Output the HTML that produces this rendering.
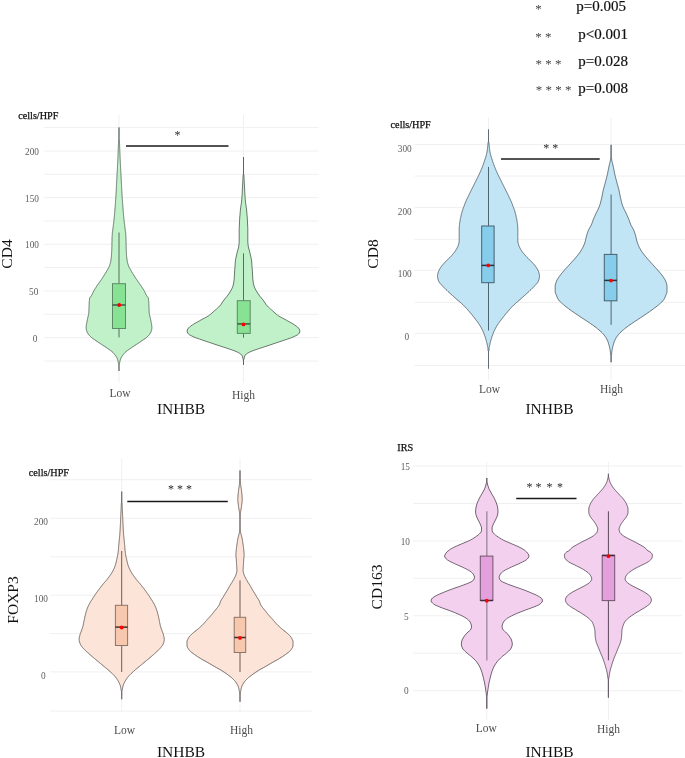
<!DOCTYPE html>
<html lang="en">
<head>
<meta charset="utf-8">
<title>INHBB violin plots</title>
<style>
html,body{margin:0;padding:0;background:#fff;}
body{width:685px;height:758px;overflow:hidden;}
svg{display:block;font-family:"Liberation Serif", "DejaVu Serif", serif;}
.grid{stroke:#f0f0f0;stroke-width:1;}
.tick{font-size:9.3px;fill:#606060;}
.xt{font-size:11.5px;fill:#4d4d4d;}
.unit{font-size:10.2px;fill:#111;stroke:#111;stroke-width:0.25px;}
.title{font-size:15.5px;fill:#111;}
.star{font-size:12px;fill:#2a2a2a;}
.lstar{font-size:13px;fill:#444;}
.ltext{font-size:15px;fill:#111;stroke:#111;stroke-width:0.2px;}
</style>
</head>
<body>
<svg width="685" height="758" viewBox="0 0 685 758">
<rect width="685" height="758" fill="#ffffff"/>
<g>
<line x1="44.0" y1="127.6" x2="318.5" y2="127.6" class="grid"/>
<line x1="44.0" y1="151.0" x2="318.5" y2="151.0" class="grid"/>
<line x1="44.0" y1="174.3" x2="318.5" y2="174.3" class="grid"/>
<line x1="44.0" y1="197.6" x2="318.5" y2="197.6" class="grid"/>
<line x1="44.0" y1="221.0" x2="318.5" y2="221.0" class="grid"/>
<line x1="44.0" y1="244.3" x2="318.5" y2="244.3" class="grid"/>
<line x1="44.0" y1="267.6" x2="318.5" y2="267.6" class="grid"/>
<line x1="44.0" y1="291.0" x2="318.5" y2="291.0" class="grid"/>
<line x1="44.0" y1="314.3" x2="318.5" y2="314.3" class="grid"/>
<line x1="44.0" y1="337.6" x2="318.5" y2="337.6" class="grid"/>
<line x1="44.0" y1="361.0" x2="318.5" y2="361.0" class="grid"/>
<line x1="119.0" y1="115.0" x2="119.0" y2="382.5" class="grid"/>
<line x1="243.5" y1="115.0" x2="243.5" y2="382.5" class="grid"/>
<path d="M119.0 127.5 L119.0 128.5 L119.0 129.5 L119.0 130.5 L119.0 131.5 L119.0 132.5 L119.0 133.5 L119.0 134.5 L119.0 135.5 L119.0 136.5 L119.0 137.5 L119.0 138.5 L119.0 139.5 L118.6 140.5 L118.5 141.5 L118.5 142.5 L118.5 143.5 L118.4 144.5 L118.4 145.5 L118.4 146.5 L118.3 147.5 L118.3 148.5 L118.2 149.5 L118.2 150.5 L118.2 151.5 L118.1 152.5 L118.1 153.5 L118.0 154.5 L118.0 155.5 L118.0 156.5 L117.9 157.5 L117.9 158.5 L117.8 159.5 L117.8 160.5 L117.7 161.5 L117.7 162.5 L117.6 163.5 L117.6 164.5 L117.5 165.5 L117.5 166.5 L117.4 167.5 L117.4 168.5 L117.3 169.5 L117.3 170.5 L117.2 171.5 L117.1 172.5 L117.1 173.5 L117.0 174.5 L117.0 175.5 L116.9 176.5 L116.9 177.5 L116.8 178.5 L116.8 179.5 L116.7 180.5 L116.7 181.5 L116.6 182.5 L116.6 183.5 L116.5 184.5 L116.5 185.5 L116.4 186.5 L116.4 187.5 L116.3 188.5 L116.3 189.5 L116.2 190.5 L116.2 191.5 L116.1 192.5 L116.0 193.5 L116.0 194.5 L115.9 195.5 L115.9 196.5 L115.8 197.5 L115.7 198.5 L115.7 199.5 L115.6 200.5 L115.5 201.5 L115.5 202.5 L115.4 203.5 L115.3 204.5 L115.2 205.5 L115.2 206.5 L115.1 207.5 L115.0 208.5 L114.9 209.5 L114.8 210.5 L114.7 211.5 L114.7 212.5 L114.6 213.5 L114.5 214.5 L114.4 215.5 L114.3 216.5 L114.2 217.5 L114.1 218.5 L114.0 219.5 L113.9 220.5 L113.8 221.5 L113.7 222.5 L113.6 223.5 L113.4 224.5 L113.3 225.5 L113.2 226.5 L113.1 227.5 L112.9 228.5 L112.8 229.5 L112.7 230.5 L112.6 231.5 L112.4 232.5 L112.3 233.5 L112.3 234.5 L112.2 235.5 L112.1 236.5 L112.1 237.5 L112.0 238.5 L112.0 239.5 L112.0 240.5 L112.0 241.5 L111.9 242.5 L111.9 243.5 L111.9 244.5 L111.9 245.5 L111.9 246.5 L111.8 247.5 L111.8 248.5 L111.8 249.5 L111.7 250.5 L111.7 251.5 L111.6 252.5 L111.6 253.5 L111.5 254.5 L111.5 255.5 L111.4 256.5 L111.3 257.5 L111.1 258.5 L111.0 259.5 L110.9 260.5 L110.7 261.5 L110.5 262.5 L110.2 263.5 L109.9 264.5 L109.6 265.5 L109.2 266.5 L108.7 267.5 L108.2 268.5 L107.6 269.5 L107.0 270.5 L106.5 271.5 L105.9 272.5 L105.3 273.5 L104.6 274.5 L104.0 275.5 L103.4 276.5 L102.7 277.5 L102.1 278.5 L101.4 279.5 L100.7 280.5 L100.0 281.5 L99.3 282.5 L98.6 283.5 L97.9 284.5 L97.2 285.5 L96.5 286.5 L95.9 287.5 L95.2 288.5 L94.6 289.5 L94.0 290.5 L93.5 291.5 L93.0 292.5 L92.5 293.5 L92.0 294.5 L91.5 295.5 L90.8 296.5 L89.9 297.5 L89.6 298.5 L89.5 299.5 L89.4 300.5 L89.3 301.5 L89.2 302.5 L89.2 303.5 L89.1 304.5 L89.1 305.5 L89.1 306.5 L89.0 307.5 L89.0 308.5 L88.9 309.5 L88.9 310.5 L88.8 311.5 L88.8 312.5 L88.7 313.5 L88.5 314.5 L88.3 315.5 L88.1 316.5 L87.8 317.5 L87.6 318.5 L87.4 319.5 L87.2 320.5 L87.0 321.5 L86.8 322.5 L86.6 323.5 L86.4 324.5 L86.3 325.5 L86.2 326.5 L86.1 327.5 L86.2 328.5 L86.3 329.5 L86.6 330.5 L86.9 331.5 L87.3 332.5 L87.9 333.5 L88.6 334.5 L89.4 335.5 L90.4 336.5 L91.5 337.5 L92.8 338.5 L94.2 339.5 L95.7 340.5 L97.1 341.5 L98.6 342.5 L100.2 343.5 L101.7 344.5 L103.2 345.5 L104.8 346.5 L106.3 347.5 L107.7 348.5 L109.2 349.5 L110.6 350.5 L111.9 351.5 L113.0 352.5 L113.9 353.5 L114.7 354.5 L115.4 355.5 L116.1 356.5 L116.7 357.5 L117.2 358.5 L117.6 359.5 L117.9 360.5 L118.1 361.5 L118.3 362.5 L118.5 363.5 L119.0 364.5 L119.0 365.5 L119.0 366.5 L119.0 367.5 L119.0 368.5 L119.0 369.5 L119.0 370.5 L119.0 371.0 L119.0 371.0 L119.0 370.5 L119.0 369.5 L119.0 368.5 L119.0 367.5 L119.0 366.5 L119.0 365.5 L119.0 364.5 L119.5 363.5 L119.7 362.5 L119.9 361.5 L120.1 360.5 L120.4 359.5 L120.8 358.5 L121.3 357.5 L121.9 356.5 L122.6 355.5 L123.3 354.5 L124.1 353.5 L125.0 352.5 L126.1 351.5 L127.4 350.5 L128.8 349.5 L130.3 348.5 L131.7 347.5 L133.2 346.5 L134.8 345.5 L136.3 344.5 L137.8 343.5 L139.4 342.5 L140.9 341.5 L142.3 340.5 L143.8 339.5 L145.2 338.5 L146.5 337.5 L147.6 336.5 L148.6 335.5 L149.4 334.5 L150.1 333.5 L150.7 332.5 L151.1 331.5 L151.4 330.5 L151.7 329.5 L151.8 328.5 L151.9 327.5 L151.8 326.5 L151.7 325.5 L151.6 324.5 L151.4 323.5 L151.2 322.5 L151.0 321.5 L150.8 320.5 L150.6 319.5 L150.4 318.5 L150.2 317.5 L149.9 316.5 L149.7 315.5 L149.5 314.5 L149.3 313.5 L149.2 312.5 L149.2 311.5 L149.1 310.5 L149.1 309.5 L149.0 308.5 L149.0 307.5 L148.9 306.5 L148.9 305.5 L148.9 304.5 L148.8 303.5 L148.8 302.5 L148.7 301.5 L148.6 300.5 L148.5 299.5 L148.4 298.5 L148.1 297.5 L147.2 296.5 L146.5 295.5 L146.0 294.5 L145.5 293.5 L145.0 292.5 L144.5 291.5 L144.0 290.5 L143.4 289.5 L142.8 288.5 L142.1 287.5 L141.5 286.5 L140.8 285.5 L140.1 284.5 L139.4 283.5 L138.7 282.5 L138.0 281.5 L137.3 280.5 L136.6 279.5 L135.9 278.5 L135.3 277.5 L134.6 276.5 L134.0 275.5 L133.4 274.5 L132.7 273.5 L132.1 272.5 L131.5 271.5 L131.0 270.5 L130.4 269.5 L129.8 268.5 L129.3 267.5 L128.8 266.5 L128.4 265.5 L128.1 264.5 L127.8 263.5 L127.5 262.5 L127.3 261.5 L127.1 260.5 L127.0 259.5 L126.9 258.5 L126.7 257.5 L126.6 256.5 L126.5 255.5 L126.5 254.5 L126.4 253.5 L126.4 252.5 L126.3 251.5 L126.3 250.5 L126.2 249.5 L126.2 248.5 L126.2 247.5 L126.1 246.5 L126.1 245.5 L126.1 244.5 L126.1 243.5 L126.1 242.5 L126.0 241.5 L126.0 240.5 L126.0 239.5 L126.0 238.5 L125.9 237.5 L125.9 236.5 L125.8 235.5 L125.7 234.5 L125.7 233.5 L125.6 232.5 L125.4 231.5 L125.3 230.5 L125.2 229.5 L125.1 228.5 L124.9 227.5 L124.8 226.5 L124.7 225.5 L124.6 224.5 L124.4 223.5 L124.3 222.5 L124.2 221.5 L124.1 220.5 L124.0 219.5 L123.9 218.5 L123.8 217.5 L123.7 216.5 L123.6 215.5 L123.5 214.5 L123.4 213.5 L123.3 212.5 L123.3 211.5 L123.2 210.5 L123.1 209.5 L123.0 208.5 L122.9 207.5 L122.8 206.5 L122.8 205.5 L122.7 204.5 L122.6 203.5 L122.5 202.5 L122.5 201.5 L122.4 200.5 L122.3 199.5 L122.3 198.5 L122.2 197.5 L122.1 196.5 L122.1 195.5 L122.0 194.5 L122.0 193.5 L121.9 192.5 L121.8 191.5 L121.8 190.5 L121.7 189.5 L121.7 188.5 L121.6 187.5 L121.6 186.5 L121.5 185.5 L121.5 184.5 L121.4 183.5 L121.4 182.5 L121.3 181.5 L121.3 180.5 L121.2 179.5 L121.2 178.5 L121.1 177.5 L121.1 176.5 L121.0 175.5 L121.0 174.5 L120.9 173.5 L120.9 172.5 L120.8 171.5 L120.7 170.5 L120.7 169.5 L120.6 168.5 L120.6 167.5 L120.5 166.5 L120.5 165.5 L120.4 164.5 L120.4 163.5 L120.3 162.5 L120.3 161.5 L120.2 160.5 L120.2 159.5 L120.1 158.5 L120.1 157.5 L120.0 156.5 L120.0 155.5 L120.0 154.5 L119.9 153.5 L119.9 152.5 L119.8 151.5 L119.8 150.5 L119.8 149.5 L119.7 148.5 L119.7 147.5 L119.6 146.5 L119.6 145.5 L119.6 144.5 L119.5 143.5 L119.5 142.5 L119.5 141.5 L119.4 140.5 L119.0 139.5 L119.0 138.5 L119.0 137.5 L119.0 136.5 L119.0 135.5 L119.0 134.5 L119.0 133.5 L119.0 132.5 L119.0 131.5 L119.0 130.5 L119.0 129.5 L119.0 128.5 L119.0 127.5 Z" fill="#c1f1c8" stroke="#526256" stroke-width="0.85" stroke-linejoin="round"/>
<line x1="119.0" y1="232.5" x2="119.0" y2="337.4" stroke="#55705a" stroke-width="1.0"/>
<rect x="112.5" y="283.7" width="13.0" height="44.8" fill="#87e294" stroke="#5f8a68" stroke-width="1"/>
<line x1="112.5" y1="305.0" x2="125.5" y2="305.0" stroke="#3a5a42" stroke-width="1.5"/>
<circle cx="119.2" cy="305.0" r="1.9" fill="#ff0000"/>
<path d="M243.5 157.0 L243.5 158.0 L243.5 159.0 L243.5 160.0 L243.5 161.0 L243.5 162.0 L243.5 163.0 L243.5 164.0 L243.5 165.0 L243.5 166.0 L243.5 167.0 L243.5 168.0 L243.5 169.0 L243.5 170.0 L243.5 171.0 L243.5 172.0 L243.5 173.0 L243.5 174.0 L243.1 175.0 L243.1 176.0 L243.0 177.0 L243.0 178.0 L242.9 179.0 L242.9 180.0 L242.8 181.0 L242.8 182.0 L242.7 183.0 L242.7 184.0 L242.6 185.0 L242.5 186.0 L242.5 187.0 L242.4 188.0 L242.4 189.0 L242.3 190.0 L242.3 191.0 L242.2 192.0 L242.2 193.0 L242.1 194.0 L242.1 195.0 L242.0 196.0 L241.9 197.0 L241.9 198.0 L241.8 199.0 L241.7 200.0 L241.6 201.0 L241.5 202.0 L241.4 203.0 L241.2 204.0 L241.1 205.0 L240.9 206.0 L240.8 207.0 L240.7 208.0 L240.5 209.0 L240.4 210.0 L240.3 211.0 L240.2 212.0 L240.1 213.0 L240.1 214.0 L240.0 215.0 L239.9 216.0 L239.8 217.0 L239.7 218.0 L239.7 219.0 L239.6 220.0 L239.6 221.0 L239.5 222.0 L239.5 223.0 L239.4 224.0 L239.4 225.0 L239.3 226.0 L239.3 227.0 L239.2 228.0 L239.2 229.0 L239.2 230.0 L239.2 231.0 L239.2 232.0 L239.2 233.0 L239.2 234.0 L239.2 235.0 L239.2 236.0 L239.2 237.0 L239.2 238.0 L239.2 239.0 L239.2 240.0 L239.2 241.0 L239.2 242.0 L239.1 243.0 L239.0 244.0 L238.9 245.0 L238.8 246.0 L238.6 247.0 L238.4 248.0 L238.1 249.0 L237.8 250.0 L237.5 251.0 L237.3 252.0 L237.0 253.0 L236.8 254.0 L236.6 255.0 L236.3 256.0 L236.1 257.0 L235.9 258.0 L235.7 259.0 L235.6 260.0 L235.4 261.0 L235.3 262.0 L235.2 263.0 L235.2 264.0 L235.1 265.0 L235.0 266.0 L235.0 267.0 L234.9 268.0 L234.8 269.0 L234.7 270.0 L234.6 271.0 L234.6 272.0 L234.5 273.0 L234.5 274.0 L234.4 275.0 L234.4 276.0 L234.3 277.0 L234.2 278.0 L234.2 279.0 L234.1 280.0 L233.9 281.0 L233.8 282.0 L233.7 283.0 L233.5 284.0 L233.2 285.0 L233.0 286.0 L232.6 287.0 L232.2 288.0 L231.7 289.0 L231.2 290.0 L230.6 291.0 L230.0 292.0 L229.4 293.0 L228.7 294.0 L228.0 295.0 L227.3 296.0 L226.5 297.0 L225.6 298.0 L224.8 299.0 L224.0 300.0 L223.2 301.0 L222.6 302.0 L221.9 303.0 L221.3 304.0 L220.6 305.0 L219.7 306.0 L218.7 307.0 L217.6 308.0 L216.5 309.0 L215.3 310.0 L214.2 311.0 L213.1 312.0 L212.0 313.0 L210.9 314.0 L209.6 315.0 L208.2 316.0 L206.5 317.0 L204.7 318.0 L202.8 319.0 L200.9 320.0 L199.2 321.0 L197.3 322.0 L195.5 323.0 L193.8 324.0 L192.3 325.0 L190.9 326.0 L189.5 327.0 L188.5 328.0 L187.8 329.0 L187.3 330.0 L187.1 331.0 L187.3 332.0 L187.7 333.0 L188.4 334.0 L189.8 335.0 L191.8 336.0 L193.9 337.0 L196.4 338.0 L199.4 339.0 L202.3 340.0 L205.2 341.0 L208.2 342.0 L211.2 343.0 L214.1 344.0 L217.1 345.0 L220.1 346.0 L223.2 347.0 L226.3 348.0 L229.3 349.0 L232.2 350.0 L234.9 351.0 L237.2 352.0 L239.1 353.0 L240.7 354.0 L241.7 355.0 L242.2 356.0 L242.6 357.0 L242.8 358.0 L243.0 359.0 L243.5 360.0 L243.5 361.0 L243.5 362.0 L243.5 363.0 L243.5 364.0 L243.5 364.9 L243.5 364.9 L243.5 364.0 L243.5 363.0 L243.5 362.0 L243.5 361.0 L243.5 360.0 L244.0 359.0 L244.2 358.0 L244.4 357.0 L244.8 356.0 L245.3 355.0 L246.3 354.0 L247.9 353.0 L249.8 352.0 L252.1 351.0 L254.8 350.0 L257.7 349.0 L260.7 348.0 L263.8 347.0 L266.9 346.0 L269.9 345.0 L272.9 344.0 L275.8 343.0 L278.8 342.0 L281.8 341.0 L284.7 340.0 L287.6 339.0 L290.6 338.0 L293.1 337.0 L295.2 336.0 L297.2 335.0 L298.6 334.0 L299.3 333.0 L299.7 332.0 L299.9 331.0 L299.7 330.0 L299.2 329.0 L298.5 328.0 L297.5 327.0 L296.1 326.0 L294.7 325.0 L293.2 324.0 L291.5 323.0 L289.7 322.0 L287.8 321.0 L286.1 320.0 L284.2 319.0 L282.3 318.0 L280.5 317.0 L278.8 316.0 L277.4 315.0 L276.1 314.0 L275.0 313.0 L273.9 312.0 L272.8 311.0 L271.7 310.0 L270.5 309.0 L269.4 308.0 L268.3 307.0 L267.3 306.0 L266.4 305.0 L265.7 304.0 L265.1 303.0 L264.4 302.0 L263.8 301.0 L263.0 300.0 L262.2 299.0 L261.4 298.0 L260.5 297.0 L259.7 296.0 L259.0 295.0 L258.3 294.0 L257.6 293.0 L257.0 292.0 L256.4 291.0 L255.8 290.0 L255.3 289.0 L254.8 288.0 L254.4 287.0 L254.0 286.0 L253.8 285.0 L253.5 284.0 L253.3 283.0 L253.2 282.0 L253.1 281.0 L252.9 280.0 L252.8 279.0 L252.8 278.0 L252.7 277.0 L252.6 276.0 L252.6 275.0 L252.5 274.0 L252.5 273.0 L252.4 272.0 L252.4 271.0 L252.3 270.0 L252.2 269.0 L252.1 268.0 L252.0 267.0 L252.0 266.0 L251.9 265.0 L251.8 264.0 L251.8 263.0 L251.7 262.0 L251.6 261.0 L251.4 260.0 L251.3 259.0 L251.1 258.0 L250.9 257.0 L250.7 256.0 L250.4 255.0 L250.2 254.0 L250.0 253.0 L249.7 252.0 L249.5 251.0 L249.2 250.0 L248.9 249.0 L248.6 248.0 L248.4 247.0 L248.2 246.0 L248.1 245.0 L248.0 244.0 L247.9 243.0 L247.8 242.0 L247.8 241.0 L247.8 240.0 L247.8 239.0 L247.8 238.0 L247.8 237.0 L247.8 236.0 L247.8 235.0 L247.8 234.0 L247.8 233.0 L247.8 232.0 L247.8 231.0 L247.8 230.0 L247.8 229.0 L247.8 228.0 L247.7 227.0 L247.7 226.0 L247.6 225.0 L247.6 224.0 L247.5 223.0 L247.5 222.0 L247.4 221.0 L247.4 220.0 L247.3 219.0 L247.3 218.0 L247.2 217.0 L247.1 216.0 L247.0 215.0 L246.9 214.0 L246.9 213.0 L246.8 212.0 L246.7 211.0 L246.6 210.0 L246.5 209.0 L246.3 208.0 L246.2 207.0 L246.1 206.0 L245.9 205.0 L245.8 204.0 L245.6 203.0 L245.5 202.0 L245.4 201.0 L245.3 200.0 L245.2 199.0 L245.1 198.0 L245.1 197.0 L245.0 196.0 L244.9 195.0 L244.9 194.0 L244.8 193.0 L244.8 192.0 L244.7 191.0 L244.7 190.0 L244.6 189.0 L244.6 188.0 L244.5 187.0 L244.5 186.0 L244.4 185.0 L244.3 184.0 L244.3 183.0 L244.2 182.0 L244.2 181.0 L244.1 180.0 L244.1 179.0 L244.0 178.0 L244.0 177.0 L243.9 176.0 L243.9 175.0 L243.5 174.0 L243.5 173.0 L243.5 172.0 L243.5 171.0 L243.5 170.0 L243.5 169.0 L243.5 168.0 L243.5 167.0 L243.5 166.0 L243.5 165.0 L243.5 164.0 L243.5 163.0 L243.5 162.0 L243.5 161.0 L243.5 160.0 L243.5 159.0 L243.5 158.0 L243.5 157.0 Z" fill="#c1f1c8" stroke="#526256" stroke-width="0.85" stroke-linejoin="round"/>
<line x1="243.5" y1="253.3" x2="243.5" y2="337.7" stroke="#55705a" stroke-width="1.0"/>
<rect x="237.3" y="300.7" width="12.9" height="32.7" fill="#87e294" stroke="#5f8a68" stroke-width="1"/>
<line x1="237.3" y1="323.9" x2="250.2" y2="323.9" stroke="#3a5a42" stroke-width="1.5"/>
<circle cx="243.5" cy="324.4" r="1.9" fill="#ff0000"/>
<text x="39.0" y="155.0" class="tick" text-anchor="end">200</text>
<text x="39.0" y="201.6" class="tick" text-anchor="end">150</text>
<text x="39.0" y="248.3" class="tick" text-anchor="end">100</text>
<text x="38.3" y="295.0" class="tick" text-anchor="end">50</text>
<text x="37.3" y="341.6" class="tick" text-anchor="end">0</text>
<text x="120.0" y="396.5" class="xt" text-anchor="middle">Low</text>
<text x="243.5" y="399.0" class="xt" text-anchor="middle">High</text>
<text x="18.2" y="118.5" class="unit">cells/HPF</text>
<text x="181.0" y="414.0" class="title" text-anchor="middle">INHBB</text>
<text transform="translate(12.0 254.0) rotate(-90)" class="title" text-anchor="middle">CD4</text>
<line x1="126.0" y1="146.0" x2="228.5" y2="146.0" stroke="#1a1a1a" stroke-width="1.4"/>
<text x="177.6" y="138.6" class="star" text-anchor="middle">*</text>
</g>
<g>
<line x1="414.5" y1="144.5" x2="685.0" y2="144.5" class="grid"/>
<line x1="414.5" y1="176.0" x2="685.0" y2="176.0" class="grid"/>
<line x1="414.5" y1="207.5" x2="685.0" y2="207.5" class="grid"/>
<line x1="414.5" y1="239.3" x2="685.0" y2="239.3" class="grid"/>
<line x1="414.5" y1="270.2" x2="685.0" y2="270.2" class="grid"/>
<line x1="414.5" y1="302.4" x2="685.0" y2="302.4" class="grid"/>
<line x1="414.5" y1="333.3" x2="685.0" y2="333.3" class="grid"/>
<line x1="414.5" y1="365.5" x2="685.0" y2="365.5" class="grid"/>
<line x1="488.5" y1="117.5" x2="488.5" y2="380.0" class="grid"/>
<line x1="611.1" y1="117.5" x2="611.1" y2="380.0" class="grid"/>
<path d="M488.5 129.5 L488.5 130.5 L488.5 131.5 L488.5 132.5 L488.5 133.5 L488.5 134.5 L488.5 135.5 L488.5 136.5 L488.5 137.5 L488.5 138.5 L488.5 139.5 L488.5 140.5 L488.5 141.5 L488.1 142.5 L488.0 143.5 L487.9 144.5 L487.8 145.5 L487.7 146.5 L487.6 147.5 L487.5 148.5 L487.4 149.5 L487.2 150.5 L487.1 151.5 L486.9 152.5 L486.7 153.5 L486.4 154.5 L486.2 155.5 L485.9 156.5 L485.6 157.5 L485.3 158.5 L484.9 159.5 L484.6 160.5 L484.3 161.5 L484.0 162.5 L483.6 163.5 L483.3 164.5 L482.9 165.5 L482.5 166.5 L482.1 167.5 L481.7 168.5 L481.3 169.5 L480.9 170.5 L480.4 171.5 L480.0 172.5 L479.5 173.5 L479.1 174.5 L478.6 175.5 L478.1 176.5 L477.6 177.5 L477.1 178.5 L476.6 179.5 L476.1 180.5 L475.6 181.5 L475.1 182.5 L474.6 183.5 L474.1 184.5 L473.6 185.5 L473.1 186.5 L472.6 187.5 L472.1 188.5 L471.6 189.5 L471.1 190.5 L470.6 191.5 L470.1 192.5 L469.6 193.5 L469.1 194.5 L468.6 195.5 L468.2 196.5 L467.7 197.5 L467.2 198.5 L466.7 199.5 L466.3 200.5 L465.8 201.5 L465.4 202.5 L465.0 203.5 L464.6 204.5 L464.3 205.5 L463.9 206.5 L463.5 207.5 L463.1 208.5 L462.8 209.5 L462.4 210.5 L462.1 211.5 L461.9 212.5 L461.6 213.5 L461.3 214.5 L461.1 215.5 L460.9 216.5 L460.7 217.5 L460.4 218.5 L460.2 219.5 L460.1 220.5 L459.9 221.5 L459.8 222.5 L459.6 223.5 L459.5 224.5 L459.4 225.5 L459.3 226.5 L459.3 227.5 L459.2 228.5 L459.2 229.5 L459.2 230.5 L459.2 231.5 L459.2 232.5 L459.2 233.5 L459.2 234.5 L459.2 235.5 L459.2 236.5 L459.2 237.5 L459.2 238.5 L459.2 239.5 L459.2 240.5 L459.1 241.5 L459.0 242.5 L458.7 243.5 L458.5 244.5 L458.2 245.5 L457.8 246.5 L457.3 247.5 L456.8 248.5 L456.2 249.5 L455.6 250.5 L454.9 251.5 L454.2 252.5 L453.4 253.5 L452.5 254.5 L451.7 255.5 L450.8 256.5 L449.8 257.5 L448.7 258.5 L447.7 259.5 L446.7 260.5 L445.7 261.5 L444.8 262.5 L443.8 263.5 L442.9 264.5 L442.1 265.5 L441.4 266.5 L440.6 267.5 L440.0 268.5 L439.4 269.5 L438.9 270.5 L438.5 271.5 L438.2 272.5 L437.9 273.5 L437.7 274.5 L437.5 275.5 L437.5 276.5 L437.6 277.5 L437.8 278.5 L438.1 279.5 L438.4 280.5 L438.8 281.5 L439.4 282.5 L440.2 283.5 L441.1 284.5 L442.1 285.5 L443.0 286.5 L443.9 287.5 L444.9 288.5 L445.9 289.5 L447.0 290.5 L448.0 291.5 L449.1 292.5 L450.2 293.5 L451.3 294.5 L452.5 295.5 L453.6 296.5 L454.7 297.5 L455.8 298.5 L456.9 299.5 L458.1 300.5 L459.3 301.5 L460.5 302.5 L461.6 303.5 L462.7 304.5 L463.7 305.5 L464.7 306.5 L465.6 307.5 L466.6 308.5 L467.5 309.5 L468.3 310.5 L469.2 311.5 L470.0 312.5 L470.9 313.5 L471.7 314.5 L472.5 315.5 L473.3 316.5 L474.1 317.5 L474.9 318.5 L475.7 319.5 L476.4 320.5 L477.2 321.5 L477.9 322.5 L478.6 323.5 L479.3 324.5 L479.9 325.5 L480.5 326.5 L481.1 327.5 L481.6 328.5 L482.1 329.5 L482.6 330.5 L483.0 331.5 L483.5 332.5 L483.9 333.5 L484.3 334.5 L484.6 335.5 L485.0 336.5 L485.3 337.5 L485.6 338.5 L485.9 339.5 L486.2 340.5 L486.5 341.5 L486.7 342.5 L487.0 343.5 L487.2 344.5 L487.4 345.5 L487.6 346.5 L487.8 347.5 L488.0 348.5 L488.0 349.5 L488.1 350.5 L488.5 351.5 L488.5 352.5 L488.5 353.5 L488.5 354.5 L488.5 355.5 L488.5 356.5 L488.5 357.5 L488.5 358.5 L488.5 359.5 L488.5 360.5 L488.5 361.5 L488.5 362.5 L488.5 363.5 L488.5 364.5 L488.5 365.5 L488.5 366.5 L488.5 367.5 L488.5 368.5 L488.5 368.5 L488.5 367.5 L488.5 366.5 L488.5 365.5 L488.5 364.5 L488.5 363.5 L488.5 362.5 L488.5 361.5 L488.5 360.5 L488.5 359.5 L488.5 358.5 L488.5 357.5 L488.5 356.5 L488.5 355.5 L488.5 354.5 L488.5 353.5 L488.5 352.5 L488.5 351.5 L488.9 350.5 L489.0 349.5 L489.0 348.5 L489.2 347.5 L489.4 346.5 L489.6 345.5 L489.8 344.5 L490.0 343.5 L490.3 342.5 L490.5 341.5 L490.8 340.5 L491.1 339.5 L491.4 338.5 L491.7 337.5 L492.0 336.5 L492.4 335.5 L492.7 334.5 L493.1 333.5 L493.5 332.5 L494.0 331.5 L494.4 330.5 L494.9 329.5 L495.4 328.5 L495.9 327.5 L496.5 326.5 L497.1 325.5 L497.7 324.5 L498.4 323.5 L499.1 322.5 L499.8 321.5 L500.6 320.5 L501.3 319.5 L502.1 318.5 L502.9 317.5 L503.7 316.5 L504.5 315.5 L505.3 314.5 L506.1 313.5 L507.0 312.5 L507.8 311.5 L508.7 310.5 L509.5 309.5 L510.4 308.5 L511.4 307.5 L512.3 306.5 L513.3 305.5 L514.3 304.5 L515.4 303.5 L516.5 302.5 L517.7 301.5 L518.9 300.5 L520.1 299.5 L521.2 298.5 L522.3 297.5 L523.4 296.5 L524.5 295.5 L525.7 294.5 L526.8 293.5 L527.9 292.5 L529.0 291.5 L530.0 290.5 L531.1 289.5 L532.1 288.5 L533.1 287.5 L534.0 286.5 L534.9 285.5 L535.9 284.5 L536.8 283.5 L537.6 282.5 L538.2 281.5 L538.6 280.5 L538.9 279.5 L539.2 278.5 L539.4 277.5 L539.5 276.5 L539.5 275.5 L539.3 274.5 L539.1 273.5 L538.8 272.5 L538.5 271.5 L538.1 270.5 L537.6 269.5 L537.0 268.5 L536.4 267.5 L535.6 266.5 L534.9 265.5 L534.1 264.5 L533.2 263.5 L532.2 262.5 L531.3 261.5 L530.3 260.5 L529.3 259.5 L528.3 258.5 L527.2 257.5 L526.2 256.5 L525.3 255.5 L524.5 254.5 L523.6 253.5 L522.8 252.5 L522.1 251.5 L521.4 250.5 L520.8 249.5 L520.2 248.5 L519.7 247.5 L519.2 246.5 L518.8 245.5 L518.5 244.5 L518.3 243.5 L518.0 242.5 L517.9 241.5 L517.8 240.5 L517.8 239.5 L517.8 238.5 L517.8 237.5 L517.8 236.5 L517.8 235.5 L517.8 234.5 L517.8 233.5 L517.8 232.5 L517.8 231.5 L517.8 230.5 L517.8 229.5 L517.8 228.5 L517.7 227.5 L517.7 226.5 L517.6 225.5 L517.5 224.5 L517.4 223.5 L517.2 222.5 L517.1 221.5 L516.9 220.5 L516.8 219.5 L516.6 218.5 L516.3 217.5 L516.1 216.5 L515.9 215.5 L515.7 214.5 L515.4 213.5 L515.1 212.5 L514.9 211.5 L514.6 210.5 L514.2 209.5 L513.9 208.5 L513.5 207.5 L513.1 206.5 L512.7 205.5 L512.4 204.5 L512.0 203.5 L511.6 202.5 L511.2 201.5 L510.7 200.5 L510.3 199.5 L509.8 198.5 L509.3 197.5 L508.8 196.5 L508.4 195.5 L507.9 194.5 L507.4 193.5 L506.9 192.5 L506.4 191.5 L505.9 190.5 L505.4 189.5 L504.9 188.5 L504.4 187.5 L503.9 186.5 L503.4 185.5 L502.9 184.5 L502.4 183.5 L501.9 182.5 L501.4 181.5 L500.9 180.5 L500.4 179.5 L499.9 178.5 L499.4 177.5 L498.9 176.5 L498.4 175.5 L497.9 174.5 L497.5 173.5 L497.0 172.5 L496.6 171.5 L496.1 170.5 L495.7 169.5 L495.3 168.5 L494.9 167.5 L494.5 166.5 L494.1 165.5 L493.7 164.5 L493.4 163.5 L493.0 162.5 L492.7 161.5 L492.4 160.5 L492.1 159.5 L491.7 158.5 L491.4 157.5 L491.1 156.5 L490.8 155.5 L490.6 154.5 L490.3 153.5 L490.1 152.5 L489.9 151.5 L489.8 150.5 L489.6 149.5 L489.5 148.5 L489.4 147.5 L489.3 146.5 L489.2 145.5 L489.1 144.5 L489.0 143.5 L488.9 142.5 L488.5 141.5 L488.5 140.5 L488.5 139.5 L488.5 138.5 L488.5 137.5 L488.5 136.5 L488.5 135.5 L488.5 134.5 L488.5 133.5 L488.5 132.5 L488.5 131.5 L488.5 130.5 L488.5 129.5 Z" fill="#c2e5f5" stroke="#4e5c66" stroke-width="0.85" stroke-linejoin="round"/>
<line x1="488.5" y1="166.9" x2="488.5" y2="330.5" stroke="#4f6672" stroke-width="1.0"/>
<rect x="481.7" y="226.0" width="12.4" height="56.7" fill="#86cdeb" stroke="#46606e" stroke-width="1"/>
<line x1="481.7" y1="265.4" x2="494.1" y2="265.4" stroke="#26333c" stroke-width="1.5"/>
<circle cx="488.3" cy="265.4" r="1.9" fill="#ff0000"/>
<path d="M611.1 144.8 L611.1 145.8 L611.1 146.8 L611.1 147.8 L611.1 148.8 L611.1 149.8 L611.1 150.8 L611.1 151.8 L611.1 152.8 L611.1 153.8 L611.1 154.8 L611.1 155.8 L611.1 156.8 L610.7 157.8 L610.6 158.8 L610.5 159.8 L610.3 160.8 L610.1 161.8 L609.8 162.8 L609.6 163.8 L609.3 164.8 L609.1 165.8 L608.9 166.8 L608.7 167.8 L608.5 168.8 L608.3 169.8 L608.1 170.8 L607.9 171.8 L607.7 172.8 L607.5 173.8 L607.3 174.8 L607.0 175.8 L606.8 176.8 L606.5 177.8 L606.3 178.8 L606.0 179.8 L605.7 180.8 L605.5 181.8 L605.2 182.8 L605.0 183.8 L604.7 184.8 L604.4 185.8 L604.1 186.8 L603.9 187.8 L603.6 188.8 L603.3 189.8 L603.1 190.8 L602.9 191.8 L602.7 192.8 L602.5 193.8 L602.3 194.8 L602.1 195.8 L601.9 196.8 L601.7 197.8 L601.5 198.8 L601.2 199.8 L601.0 200.8 L600.7 201.8 L600.5 202.8 L600.2 203.8 L599.9 204.8 L599.5 205.8 L599.2 206.8 L598.8 207.8 L598.3 208.8 L597.8 209.8 L597.3 210.8 L596.8 211.8 L596.3 212.8 L595.8 213.8 L595.4 214.8 L594.9 215.8 L594.5 216.8 L594.0 217.8 L593.6 218.8 L593.2 219.8 L592.8 220.8 L592.5 221.8 L592.1 222.8 L591.8 223.8 L591.4 224.8 L590.9 225.8 L590.3 226.8 L589.7 227.8 L589.2 228.8 L588.6 229.8 L588.2 230.8 L587.8 231.8 L587.5 232.8 L587.1 233.8 L586.8 234.8 L586.5 235.8 L586.3 236.8 L586.1 237.8 L585.9 238.8 L585.6 239.8 L585.4 240.8 L585.1 241.8 L584.8 242.8 L584.4 243.8 L584.0 244.8 L583.6 245.8 L583.2 246.8 L582.7 247.8 L582.1 248.8 L581.5 249.8 L580.9 250.8 L580.3 251.8 L579.5 252.8 L578.8 253.8 L578.0 254.8 L577.2 255.8 L576.4 256.8 L575.5 257.8 L574.7 258.8 L573.8 259.8 L572.9 260.8 L572.0 261.8 L571.1 262.8 L570.2 263.8 L569.3 264.8 L568.4 265.8 L567.5 266.8 L566.6 267.8 L565.6 268.8 L564.7 269.8 L563.9 270.8 L563.0 271.8 L562.2 272.8 L561.3 273.8 L560.6 274.8 L559.8 275.8 L559.1 276.8 L558.4 277.8 L557.7 278.8 L557.1 279.8 L556.7 280.8 L556.3 281.8 L555.9 282.8 L555.6 283.8 L555.4 284.8 L555.2 285.8 L555.2 286.8 L555.2 287.8 L555.2 288.8 L555.2 289.8 L555.2 290.8 L555.2 291.8 L555.4 292.8 L555.7 293.8 L556.2 294.8 L556.6 295.8 L557.0 296.8 L557.4 297.8 L557.9 298.8 L558.5 299.8 L559.2 300.8 L560.3 301.8 L561.4 302.8 L562.5 303.8 L563.6 304.8 L564.8 305.8 L566.1 306.8 L567.4 307.8 L568.7 308.8 L570.1 309.8 L571.5 310.8 L572.9 311.8 L574.4 312.8 L575.8 313.8 L577.3 314.8 L578.8 315.8 L580.3 316.8 L581.8 317.8 L583.3 318.8 L584.8 319.8 L586.4 320.8 L587.9 321.8 L589.4 322.8 L590.8 323.8 L592.3 324.8 L593.7 325.8 L595.0 326.8 L596.4 327.8 L597.6 328.8 L598.8 329.8 L600.0 330.8 L601.1 331.8 L602.2 332.8 L603.1 333.8 L603.9 334.8 L604.7 335.8 L605.4 336.8 L606.1 337.8 L606.6 338.8 L607.1 339.8 L607.6 340.8 L608.0 341.8 L608.3 342.8 L608.6 343.8 L608.9 344.8 L609.2 345.8 L609.5 346.8 L609.7 347.8 L609.9 348.8 L610.1 349.8 L610.2 350.8 L610.4 351.8 L610.5 352.8 L610.6 353.8 L610.6 354.8 L611.1 355.8 L611.1 356.8 L611.1 357.8 L611.1 358.8 L611.1 359.8 L611.1 360.8 L611.1 361.8 L611.1 362.2 L611.1 362.2 L611.1 361.8 L611.1 360.8 L611.1 359.8 L611.1 358.8 L611.1 357.8 L611.1 356.8 L611.1 355.8 L611.6 354.8 L611.6 353.8 L611.7 352.8 L611.8 351.8 L612.0 350.8 L612.1 349.8 L612.3 348.8 L612.5 347.8 L612.7 346.8 L613.0 345.8 L613.3 344.8 L613.6 343.8 L613.9 342.8 L614.2 341.8 L614.6 340.8 L615.1 339.8 L615.6 338.8 L616.1 337.8 L616.8 336.8 L617.5 335.8 L618.3 334.8 L619.1 333.8 L620.0 332.8 L621.1 331.8 L622.2 330.8 L623.4 329.8 L624.6 328.8 L625.8 327.8 L627.2 326.8 L628.5 325.8 L629.9 324.8 L631.4 323.8 L632.8 322.8 L634.3 321.8 L635.8 320.8 L637.4 319.8 L638.9 318.8 L640.4 317.8 L641.9 316.8 L643.4 315.8 L644.9 314.8 L646.4 313.8 L647.8 312.8 L649.3 311.8 L650.7 310.8 L652.1 309.8 L653.5 308.8 L654.8 307.8 L656.1 306.8 L657.4 305.8 L658.6 304.8 L659.7 303.8 L660.8 302.8 L661.9 301.8 L663.0 300.8 L663.7 299.8 L664.3 298.8 L664.8 297.8 L665.2 296.8 L665.6 295.8 L666.0 294.8 L666.5 293.8 L666.8 292.8 L667.0 291.8 L667.0 290.8 L667.0 289.8 L667.0 288.8 L667.0 287.8 L667.0 286.8 L667.0 285.8 L666.8 284.8 L666.6 283.8 L666.3 282.8 L665.9 281.8 L665.5 280.8 L665.1 279.8 L664.5 278.8 L663.8 277.8 L663.1 276.8 L662.4 275.8 L661.6 274.8 L660.9 273.8 L660.0 272.8 L659.2 271.8 L658.3 270.8 L657.5 269.8 L656.6 268.8 L655.6 267.8 L654.7 266.8 L653.8 265.8 L652.9 264.8 L652.0 263.8 L651.1 262.8 L650.2 261.8 L649.3 260.8 L648.4 259.8 L647.5 258.8 L646.7 257.8 L645.8 256.8 L645.0 255.8 L644.2 254.8 L643.4 253.8 L642.7 252.8 L641.9 251.8 L641.3 250.8 L640.7 249.8 L640.1 248.8 L639.5 247.8 L639.0 246.8 L638.6 245.8 L638.2 244.8 L637.8 243.8 L637.4 242.8 L637.1 241.8 L636.8 240.8 L636.6 239.8 L636.3 238.8 L636.1 237.8 L635.9 236.8 L635.7 235.8 L635.4 234.8 L635.1 233.8 L634.7 232.8 L634.4 231.8 L634.0 230.8 L633.6 229.8 L633.0 228.8 L632.5 227.8 L631.9 226.8 L631.3 225.8 L630.8 224.8 L630.4 223.8 L630.1 222.8 L629.7 221.8 L629.4 220.8 L629.0 219.8 L628.6 218.8 L628.2 217.8 L627.7 216.8 L627.3 215.8 L626.8 214.8 L626.4 213.8 L625.9 212.8 L625.4 211.8 L624.9 210.8 L624.4 209.8 L623.9 208.8 L623.4 207.8 L623.0 206.8 L622.7 205.8 L622.3 204.8 L622.0 203.8 L621.7 202.8 L621.5 201.8 L621.2 200.8 L621.0 199.8 L620.7 198.8 L620.5 197.8 L620.3 196.8 L620.1 195.8 L619.9 194.8 L619.7 193.8 L619.5 192.8 L619.3 191.8 L619.1 190.8 L618.9 189.8 L618.6 188.8 L618.3 187.8 L618.1 186.8 L617.8 185.8 L617.5 184.8 L617.2 183.8 L617.0 182.8 L616.7 181.8 L616.5 180.8 L616.2 179.8 L615.9 178.8 L615.7 177.8 L615.4 176.8 L615.2 175.8 L614.9 174.8 L614.7 173.8 L614.5 172.8 L614.3 171.8 L614.1 170.8 L613.9 169.8 L613.7 168.8 L613.5 167.8 L613.3 166.8 L613.1 165.8 L612.9 164.8 L612.6 163.8 L612.4 162.8 L612.1 161.8 L611.9 160.8 L611.7 159.8 L611.6 158.8 L611.5 157.8 L611.1 156.8 L611.1 155.8 L611.1 154.8 L611.1 153.8 L611.1 152.8 L611.1 151.8 L611.1 150.8 L611.1 149.8 L611.1 148.8 L611.1 147.8 L611.1 146.8 L611.1 145.8 L611.1 144.8 Z" fill="#c2e5f5" stroke="#4e5c66" stroke-width="0.85" stroke-linejoin="round"/>
<line x1="611.1" y1="194.5" x2="611.1" y2="324.8" stroke="#4f6672" stroke-width="1.0"/>
<rect x="604.3" y="254.4" width="12.6" height="46.4" fill="#86cdeb" stroke="#46606e" stroke-width="1"/>
<line x1="604.3" y1="280.4" x2="616.9" y2="280.4" stroke="#26333c" stroke-width="1.5"/>
<circle cx="611.0" cy="280.6" r="1.9" fill="#ff0000"/>
<text x="411.7" y="151.5" class="tick" text-anchor="end">300</text>
<text x="411.7" y="215.0" class="tick" text-anchor="end">200</text>
<text x="411.7" y="276.7" class="tick" text-anchor="end">100</text>
<text x="409.2" y="339.7" class="tick" text-anchor="end">0</text>
<text x="489.5" y="392.7" class="xt" text-anchor="middle">Low</text>
<text x="611.5" y="392.6" class="xt" text-anchor="middle">High</text>
<text x="390.6" y="127.8" class="unit">cells/HPF</text>
<text x="549.5" y="413.5" class="title" text-anchor="middle">INHBB</text>
<text transform="translate(377.5 254.0) rotate(-90)" class="title" text-anchor="middle">CD8</text>
<line x1="501.0" y1="159.0" x2="599.7" y2="159.0" stroke="#1a1a1a" stroke-width="1.4"/>
<text x="550.8" y="152.2" class="star" text-anchor="middle">* *</text>
</g>
<g>
<line x1="50.0" y1="479.7" x2="311.7" y2="479.7" class="grid"/>
<line x1="50.0" y1="518.3" x2="311.7" y2="518.3" class="grid"/>
<line x1="50.0" y1="556.8" x2="311.7" y2="556.8" class="grid"/>
<line x1="50.0" y1="595.2" x2="311.7" y2="595.2" class="grid"/>
<line x1="50.0" y1="633.6" x2="311.7" y2="633.6" class="grid"/>
<line x1="50.0" y1="671.9" x2="311.7" y2="671.9" class="grid"/>
<line x1="50.0" y1="711.1" x2="311.7" y2="711.1" class="grid"/>
<line x1="121.7" y1="458.7" x2="121.7" y2="712.5" class="grid"/>
<line x1="240.0" y1="458.7" x2="240.0" y2="712.5" class="grid"/>
<path d="M121.7 491.6 L121.7 492.6 L121.7 493.6 L121.7 494.6 L121.7 495.6 L121.7 496.6 L121.7 497.6 L121.7 498.6 L121.7 499.6 L121.7 500.6 L121.7 501.6 L121.7 502.6 L121.3 503.6 L121.3 504.6 L121.2 505.6 L121.2 506.6 L121.2 507.6 L121.1 508.6 L121.1 509.6 L121.0 510.6 L121.0 511.6 L120.9 512.6 L120.9 513.6 L120.8 514.6 L120.8 515.6 L120.7 516.6 L120.7 517.6 L120.6 518.6 L120.6 519.6 L120.6 520.6 L120.5 521.6 L120.5 522.6 L120.4 523.6 L120.4 524.6 L120.3 525.6 L120.3 526.6 L120.2 527.6 L120.2 528.6 L120.1 529.6 L120.0 530.6 L120.0 531.6 L119.9 532.6 L119.8 533.6 L119.8 534.6 L119.7 535.6 L119.6 536.6 L119.5 537.6 L119.4 538.6 L119.3 539.6 L119.2 540.6 L119.1 541.6 L119.0 542.6 L118.9 543.6 L118.8 544.6 L118.7 545.6 L118.6 546.6 L118.6 547.6 L118.5 548.6 L118.4 549.6 L118.3 550.6 L118.2 551.6 L118.1 552.6 L117.9 553.6 L117.8 554.6 L117.6 555.6 L117.4 556.6 L117.2 557.6 L116.9 558.6 L116.7 559.6 L116.5 560.6 L116.3 561.6 L116.0 562.6 L115.8 563.6 L115.5 564.6 L115.2 565.6 L114.8 566.6 L114.4 567.6 L114.0 568.6 L113.5 569.6 L113.0 570.6 L112.5 571.6 L111.9 572.6 L111.3 573.6 L110.6 574.6 L109.9 575.6 L109.2 576.6 L108.5 577.6 L107.7 578.6 L107.0 579.6 L106.1 580.6 L105.3 581.6 L104.4 582.6 L103.5 583.6 L102.7 584.6 L101.9 585.6 L101.1 586.6 L100.3 587.6 L99.5 588.6 L98.8 589.6 L98.0 590.6 L97.3 591.6 L96.6 592.6 L95.9 593.6 L95.2 594.6 L94.5 595.6 L93.9 596.6 L93.2 597.6 L92.6 598.6 L92.0 599.6 L91.3 600.6 L90.7 601.6 L90.1 602.6 L89.5 603.6 L89.0 604.6 L88.5 605.6 L88.0 606.6 L87.6 607.6 L87.2 608.6 L86.9 609.6 L86.5 610.6 L86.2 611.6 L85.9 612.6 L85.7 613.6 L85.4 614.6 L85.2 615.6 L84.9 616.6 L84.7 617.6 L84.5 618.6 L84.3 619.6 L84.1 620.6 L83.9 621.6 L83.7 622.6 L83.5 623.6 L83.3 624.6 L83.1 625.6 L82.8 626.6 L82.5 627.6 L82.2 628.6 L81.8 629.6 L81.5 630.6 L81.1 631.6 L80.7 632.6 L80.3 633.6 L80.0 634.6 L79.8 635.6 L79.5 636.6 L79.3 637.6 L79.2 638.6 L79.1 639.6 L79.2 640.6 L79.4 641.6 L79.7 642.6 L80.1 643.6 L80.5 644.6 L81.1 645.6 L81.9 646.6 L82.6 647.6 L83.5 648.6 L84.5 649.6 L85.5 650.6 L86.6 651.6 L87.7 652.6 L88.8 653.6 L89.9 654.6 L91.1 655.6 L92.2 656.6 L93.4 657.6 L94.6 658.6 L95.8 659.6 L97.0 660.6 L98.2 661.6 L99.4 662.6 L100.6 663.6 L101.8 664.6 L103.0 665.6 L104.2 666.6 L105.4 667.6 L106.6 668.6 L107.9 669.6 L109.0 670.6 L110.1 671.6 L111.2 672.6 L112.3 673.6 L113.3 674.6 L114.3 675.6 L115.1 676.6 L115.9 677.6 L116.7 678.6 L117.3 679.6 L118.0 680.6 L118.5 681.6 L119.0 682.6 L119.5 683.6 L119.9 684.6 L120.3 685.6 L120.5 686.6 L120.7 687.6 L120.9 688.6 L121.1 689.6 L121.3 690.6 L121.7 691.6 L121.7 692.6 L121.7 693.6 L121.7 694.6 L121.7 695.6 L121.7 696.6 L121.7 697.6 L121.7 698.6 L121.7 699.2 L121.7 699.2 L121.7 698.6 L121.7 697.6 L121.7 696.6 L121.7 695.6 L121.7 694.6 L121.7 693.6 L121.7 692.6 L121.7 691.6 L122.1 690.6 L122.3 689.6 L122.5 688.6 L122.7 687.6 L122.9 686.6 L123.1 685.6 L123.5 684.6 L123.9 683.6 L124.4 682.6 L124.9 681.6 L125.4 680.6 L126.1 679.6 L126.7 678.6 L127.5 677.6 L128.3 676.6 L129.1 675.6 L130.1 674.6 L131.1 673.6 L132.2 672.6 L133.3 671.6 L134.4 670.6 L135.5 669.6 L136.8 668.6 L138.0 667.6 L139.2 666.6 L140.4 665.6 L141.6 664.6 L142.8 663.6 L144.0 662.6 L145.2 661.6 L146.4 660.6 L147.6 659.6 L148.8 658.6 L150.0 657.6 L151.2 656.6 L152.3 655.6 L153.5 654.6 L154.6 653.6 L155.7 652.6 L156.8 651.6 L157.9 650.6 L158.9 649.6 L159.9 648.6 L160.8 647.6 L161.5 646.6 L162.3 645.6 L162.9 644.6 L163.3 643.6 L163.7 642.6 L164.0 641.6 L164.2 640.6 L164.3 639.6 L164.2 638.6 L164.1 637.6 L163.9 636.6 L163.6 635.6 L163.4 634.6 L163.1 633.6 L162.7 632.6 L162.3 631.6 L161.9 630.6 L161.6 629.6 L161.2 628.6 L160.9 627.6 L160.6 626.6 L160.3 625.6 L160.1 624.6 L159.9 623.6 L159.7 622.6 L159.5 621.6 L159.3 620.6 L159.1 619.6 L158.9 618.6 L158.7 617.6 L158.5 616.6 L158.2 615.6 L158.0 614.6 L157.7 613.6 L157.5 612.6 L157.2 611.6 L156.9 610.6 L156.5 609.6 L156.2 608.6 L155.8 607.6 L155.4 606.6 L154.9 605.6 L154.4 604.6 L153.9 603.6 L153.3 602.6 L152.7 601.6 L152.1 600.6 L151.4 599.6 L150.8 598.6 L150.2 597.6 L149.5 596.6 L148.9 595.6 L148.2 594.6 L147.5 593.6 L146.8 592.6 L146.1 591.6 L145.4 590.6 L144.6 589.6 L143.9 588.6 L143.1 587.6 L142.3 586.6 L141.5 585.6 L140.7 584.6 L139.9 583.6 L139.0 582.6 L138.1 581.6 L137.3 580.6 L136.4 579.6 L135.7 578.6 L134.9 577.6 L134.2 576.6 L133.5 575.6 L132.8 574.6 L132.1 573.6 L131.5 572.6 L130.9 571.6 L130.4 570.6 L129.9 569.6 L129.4 568.6 L129.0 567.6 L128.6 566.6 L128.2 565.6 L127.9 564.6 L127.6 563.6 L127.4 562.6 L127.1 561.6 L126.9 560.6 L126.7 559.6 L126.5 558.6 L126.2 557.6 L126.0 556.6 L125.8 555.6 L125.6 554.6 L125.5 553.6 L125.3 552.6 L125.2 551.6 L125.1 550.6 L125.0 549.6 L124.9 548.6 L124.8 547.6 L124.8 546.6 L124.7 545.6 L124.6 544.6 L124.5 543.6 L124.4 542.6 L124.3 541.6 L124.2 540.6 L124.1 539.6 L124.0 538.6 L123.9 537.6 L123.8 536.6 L123.7 535.6 L123.6 534.6 L123.6 533.6 L123.5 532.6 L123.4 531.6 L123.4 530.6 L123.3 529.6 L123.2 528.6 L123.2 527.6 L123.1 526.6 L123.1 525.6 L123.0 524.6 L123.0 523.6 L122.9 522.6 L122.9 521.6 L122.8 520.6 L122.8 519.6 L122.8 518.6 L122.7 517.6 L122.7 516.6 L122.6 515.6 L122.6 514.6 L122.5 513.6 L122.5 512.6 L122.4 511.6 L122.4 510.6 L122.3 509.6 L122.3 508.6 L122.2 507.6 L122.2 506.6 L122.2 505.6 L122.1 504.6 L122.1 503.6 L121.7 502.6 L121.7 501.6 L121.7 500.6 L121.7 499.6 L121.7 498.6 L121.7 497.6 L121.7 496.6 L121.7 495.6 L121.7 494.6 L121.7 493.6 L121.7 492.6 L121.7 491.6 Z" fill="#fde4d9" stroke="#5e5652" stroke-width="0.85" stroke-linejoin="round"/>
<line x1="121.7" y1="551.0" x2="121.7" y2="672.0" stroke="#6a5a54" stroke-width="1.0"/>
<rect x="115.4" y="605.3" width="12.2" height="40.2" fill="#f7c8ad" stroke="#8c7468" stroke-width="1"/>
<line x1="115.4" y1="627.1" x2="127.6" y2="627.1" stroke="#3a322e" stroke-width="1.5"/>
<circle cx="121.7" cy="627.5" r="1.9" fill="#ff0000"/>
<path d="M240.0 470.5 L240.0 471.5 L240.0 472.5 L240.0 473.5 L240.0 474.5 L240.0 475.5 L240.0 476.5 L240.0 477.5 L240.0 478.5 L240.0 479.5 L240.0 480.5 L239.6 481.5 L239.6 482.5 L239.5 483.5 L239.4 484.5 L239.3 485.5 L239.1 486.5 L239.0 487.5 L238.8 488.5 L238.6 489.5 L238.5 490.5 L238.4 491.5 L238.3 492.5 L238.2 493.5 L238.1 494.5 L238.0 495.5 L237.9 496.5 L237.9 497.5 L237.8 498.5 L237.8 499.5 L237.8 500.5 L237.9 501.5 L238.0 502.5 L238.1 503.5 L238.3 504.5 L238.4 505.5 L238.5 506.5 L238.7 507.5 L238.8 508.5 L239.0 509.5 L239.2 510.5 L239.4 511.5 L239.5 512.5 L239.6 513.5 L240.0 514.5 L240.0 515.5 L240.0 516.5 L240.0 517.5 L240.0 518.5 L240.0 519.5 L240.0 520.5 L240.0 521.5 L240.0 522.5 L240.0 523.5 L240.0 524.5 L240.0 525.5 L240.0 526.5 L240.0 527.5 L240.0 528.5 L240.0 529.5 L239.6 530.5 L239.5 531.5 L239.4 532.5 L239.2 533.5 L238.9 534.5 L238.6 535.5 L238.4 536.5 L238.1 537.5 L237.9 538.5 L237.7 539.5 L237.5 540.5 L237.4 541.5 L237.2 542.5 L237.1 543.5 L236.9 544.5 L236.8 545.5 L236.7 546.5 L236.5 547.5 L236.4 548.5 L236.3 549.5 L236.2 550.5 L236.1 551.5 L236.0 552.5 L235.9 553.5 L235.9 554.5 L235.9 555.5 L236.0 556.5 L236.1 557.5 L236.2 558.5 L236.3 559.5 L236.3 560.5 L236.4 561.5 L236.5 562.5 L236.5 563.5 L236.6 564.5 L236.6 565.5 L236.7 566.5 L236.8 567.5 L236.8 568.5 L236.9 569.5 L236.9 570.5 L236.8 571.5 L236.6 572.5 L236.3 573.5 L236.0 574.5 L235.6 575.5 L235.2 576.5 L234.7 577.5 L234.2 578.5 L233.6 579.5 L233.0 580.5 L232.5 581.5 L231.9 582.5 L231.2 583.5 L230.6 584.5 L230.0 585.5 L229.4 586.5 L228.8 587.5 L228.3 588.5 L227.7 589.5 L227.1 590.5 L226.5 591.5 L225.9 592.5 L225.3 593.5 L224.7 594.5 L224.1 595.5 L223.5 596.5 L222.8 597.5 L222.2 598.5 L221.6 599.5 L221.0 600.5 L220.5 601.5 L220.2 602.5 L219.8 603.5 L219.4 604.5 L218.9 605.5 L218.2 606.5 L217.5 607.5 L216.6 608.5 L215.8 609.5 L215.0 610.5 L214.2 611.5 L213.4 612.5 L212.6 613.5 L211.8 614.5 L210.9 615.5 L210.1 616.5 L209.2 617.5 L208.2 618.5 L207.3 619.5 L206.4 620.5 L205.5 621.5 L204.7 622.5 L203.8 623.5 L202.9 624.5 L201.9 625.5 L200.8 626.5 L199.7 627.5 L198.6 628.5 L197.4 629.5 L196.2 630.5 L194.8 631.5 L193.6 632.5 L192.4 633.5 L191.4 634.5 L190.4 635.5 L189.5 636.5 L188.8 637.5 L188.2 638.5 L187.7 639.5 L187.2 640.5 L187.0 641.5 L187.0 642.5 L187.0 643.5 L187.0 644.5 L187.0 645.5 L187.1 646.5 L187.5 647.5 L188.1 648.5 L188.8 649.5 L189.6 650.5 L190.6 651.5 L191.8 652.5 L193.1 653.5 L194.5 654.5 L195.9 655.5 L197.4 656.5 L198.9 657.5 L200.6 658.5 L202.3 659.5 L204.1 660.5 L205.9 661.5 L207.6 662.5 L209.4 663.5 L211.1 664.5 L212.8 665.5 L214.6 666.5 L216.3 667.5 L218.1 668.5 L219.9 669.5 L221.6 670.5 L223.1 671.5 L224.7 672.5 L226.1 673.5 L227.5 674.5 L228.8 675.5 L230.1 676.5 L231.4 677.5 L232.5 678.5 L233.5 679.5 L234.5 680.5 L235.3 681.5 L236.0 682.5 L236.7 683.5 L237.3 684.5 L237.8 685.5 L238.2 686.5 L238.5 687.5 L238.8 688.5 L239.0 689.5 L239.2 690.5 L239.3 691.5 L239.5 692.5 L239.6 693.5 L240.0 694.5 L240.0 695.5 L240.0 696.5 L240.0 697.5 L240.0 698.5 L240.0 699.5 L240.0 700.5 L240.0 701.5 L240.0 701.7 L240.0 701.7 L240.0 701.5 L240.0 700.5 L240.0 699.5 L240.0 698.5 L240.0 697.5 L240.0 696.5 L240.0 695.5 L240.0 694.5 L240.4 693.5 L240.5 692.5 L240.7 691.5 L240.8 690.5 L241.0 689.5 L241.2 688.5 L241.5 687.5 L241.8 686.5 L242.2 685.5 L242.7 684.5 L243.3 683.5 L244.0 682.5 L244.7 681.5 L245.5 680.5 L246.5 679.5 L247.5 678.5 L248.6 677.5 L249.9 676.5 L251.2 675.5 L252.5 674.5 L253.9 673.5 L255.3 672.5 L256.9 671.5 L258.4 670.5 L260.1 669.5 L261.9 668.5 L263.7 667.5 L265.4 666.5 L267.2 665.5 L268.9 664.5 L270.6 663.5 L272.4 662.5 L274.1 661.5 L275.9 660.5 L277.7 659.5 L279.4 658.5 L281.1 657.5 L282.6 656.5 L284.1 655.5 L285.5 654.5 L286.9 653.5 L288.2 652.5 L289.4 651.5 L290.4 650.5 L291.2 649.5 L291.9 648.5 L292.5 647.5 L292.9 646.5 L293.0 645.5 L293.0 644.5 L293.0 643.5 L293.0 642.5 L293.0 641.5 L292.8 640.5 L292.3 639.5 L291.8 638.5 L291.2 637.5 L290.5 636.5 L289.6 635.5 L288.6 634.5 L287.6 633.5 L286.4 632.5 L285.2 631.5 L283.8 630.5 L282.6 629.5 L281.4 628.5 L280.3 627.5 L279.2 626.5 L278.1 625.5 L277.1 624.5 L276.2 623.5 L275.3 622.5 L274.5 621.5 L273.6 620.5 L272.7 619.5 L271.8 618.5 L270.8 617.5 L269.9 616.5 L269.1 615.5 L268.2 614.5 L267.4 613.5 L266.6 612.5 L265.8 611.5 L265.0 610.5 L264.2 609.5 L263.4 608.5 L262.5 607.5 L261.8 606.5 L261.1 605.5 L260.6 604.5 L260.2 603.5 L259.8 602.5 L259.5 601.5 L259.0 600.5 L258.4 599.5 L257.8 598.5 L257.2 597.5 L256.5 596.5 L255.9 595.5 L255.3 594.5 L254.7 593.5 L254.1 592.5 L253.5 591.5 L252.9 590.5 L252.3 589.5 L251.7 588.5 L251.2 587.5 L250.6 586.5 L250.0 585.5 L249.4 584.5 L248.8 583.5 L248.1 582.5 L247.5 581.5 L247.0 580.5 L246.4 579.5 L245.8 578.5 L245.3 577.5 L244.8 576.5 L244.4 575.5 L244.0 574.5 L243.7 573.5 L243.4 572.5 L243.2 571.5 L243.1 570.5 L243.1 569.5 L243.2 568.5 L243.2 567.5 L243.3 566.5 L243.4 565.5 L243.4 564.5 L243.5 563.5 L243.5 562.5 L243.6 561.5 L243.7 560.5 L243.7 559.5 L243.8 558.5 L243.9 557.5 L244.0 556.5 L244.1 555.5 L244.1 554.5 L244.1 553.5 L244.0 552.5 L243.9 551.5 L243.8 550.5 L243.7 549.5 L243.6 548.5 L243.5 547.5 L243.3 546.5 L243.2 545.5 L243.1 544.5 L242.9 543.5 L242.8 542.5 L242.6 541.5 L242.5 540.5 L242.3 539.5 L242.1 538.5 L241.9 537.5 L241.6 536.5 L241.4 535.5 L241.1 534.5 L240.8 533.5 L240.6 532.5 L240.5 531.5 L240.4 530.5 L240.0 529.5 L240.0 528.5 L240.0 527.5 L240.0 526.5 L240.0 525.5 L240.0 524.5 L240.0 523.5 L240.0 522.5 L240.0 521.5 L240.0 520.5 L240.0 519.5 L240.0 518.5 L240.0 517.5 L240.0 516.5 L240.0 515.5 L240.0 514.5 L240.4 513.5 L240.5 512.5 L240.6 511.5 L240.8 510.5 L241.0 509.5 L241.2 508.5 L241.3 507.5 L241.5 506.5 L241.6 505.5 L241.7 504.5 L241.9 503.5 L242.0 502.5 L242.1 501.5 L242.2 500.5 L242.2 499.5 L242.2 498.5 L242.1 497.5 L242.1 496.5 L242.0 495.5 L241.9 494.5 L241.8 493.5 L241.7 492.5 L241.6 491.5 L241.5 490.5 L241.4 489.5 L241.2 488.5 L241.0 487.5 L240.9 486.5 L240.7 485.5 L240.6 484.5 L240.5 483.5 L240.4 482.5 L240.4 481.5 L240.0 480.5 L240.0 479.5 L240.0 478.5 L240.0 477.5 L240.0 476.5 L240.0 475.5 L240.0 474.5 L240.0 473.5 L240.0 472.5 L240.0 471.5 L240.0 470.5 Z" fill="#fde4d9" stroke="#5e5652" stroke-width="0.85" stroke-linejoin="round"/>
<line x1="240.0" y1="580.4" x2="240.0" y2="671.9" stroke="#6a5a54" stroke-width="1.0"/>
<rect x="234.2" y="617.3" width="11.5" height="35.2" fill="#f7c8ad" stroke="#8c7468" stroke-width="1"/>
<line x1="234.2" y1="637.5" x2="245.7" y2="637.5" stroke="#3a322e" stroke-width="1.5"/>
<circle cx="240.0" cy="637.9" r="1.9" fill="#ff0000"/>
<text x="48.0" y="524.5" class="tick" text-anchor="end">200</text>
<text x="48.0" y="601.5" class="tick" text-anchor="end">100</text>
<text x="45.6" y="679.0" class="tick" text-anchor="end">0</text>
<text x="124.5" y="733.7" class="xt" text-anchor="middle">Low</text>
<text x="241.5" y="733.7" class="xt" text-anchor="middle">High</text>
<text x="28.8" y="476.0" class="unit">cells/HPF</text>
<text x="181.0" y="757.2" class="title" text-anchor="middle">INHBB</text>
<text transform="translate(17.5 600.0) rotate(-90)" class="title" text-anchor="middle">FOXP3</text>
<line x1="127.3" y1="501.5" x2="227.8" y2="501.5" stroke="#1a1a1a" stroke-width="1.4"/>
<text x="180.1" y="492.5" class="star" text-anchor="middle">* * *</text>
</g>
<g>
<line x1="413.0" y1="466.0" x2="682.0" y2="466.0" class="grid"/>
<line x1="413.0" y1="503.5" x2="682.0" y2="503.5" class="grid"/>
<line x1="413.0" y1="541.0" x2="682.0" y2="541.0" class="grid"/>
<line x1="413.0" y1="578.3" x2="682.0" y2="578.3" class="grid"/>
<line x1="413.0" y1="615.8" x2="682.0" y2="615.8" class="grid"/>
<line x1="413.0" y1="653.2" x2="682.0" y2="653.2" class="grid"/>
<line x1="413.0" y1="690.7" x2="682.0" y2="690.7" class="grid"/>
<line x1="486.8" y1="462.0" x2="486.8" y2="720.0" class="grid"/>
<line x1="608.4" y1="462.0" x2="608.4" y2="720.0" class="grid"/>
<path d="M486.8 478.0 L486.8 479.0 L486.8 480.0 L486.8 481.0 L486.8 482.0 L486.3 483.0 L486.1 484.0 L485.9 485.0 L485.6 486.0 L485.2 487.0 L484.9 488.0 L484.5 489.0 L484.0 490.0 L483.5 491.0 L482.9 492.0 L482.4 493.0 L481.8 494.0 L481.2 495.0 L480.6 496.0 L480.0 497.0 L479.5 498.0 L479.0 499.0 L478.5 500.0 L478.1 501.0 L477.6 502.0 L477.3 503.0 L476.9 504.0 L476.6 505.0 L476.3 506.0 L476.1 507.0 L475.9 508.0 L475.8 509.0 L475.7 510.0 L475.6 511.0 L475.6 512.0 L475.7 513.0 L475.9 514.0 L476.1 515.0 L476.4 516.0 L476.7 517.0 L477.2 518.0 L477.7 519.0 L478.1 520.0 L478.7 521.0 L479.2 522.0 L479.7 523.0 L480.2 524.0 L480.6 525.0 L481.0 526.0 L481.4 527.0 L481.5 528.0 L481.5 529.0 L481.5 530.0 L481.4 531.0 L481.1 532.0 L480.3 533.0 L479.3 534.0 L478.2 535.0 L476.9 536.0 L475.4 537.0 L473.9 538.0 L472.3 539.0 L470.5 540.0 L468.4 541.0 L466.1 542.0 L463.7 543.0 L461.4 544.0 L459.0 545.0 L456.7 546.0 L454.6 547.0 L452.6 548.0 L450.8 549.0 L449.3 550.0 L448.0 551.0 L446.9 552.0 L446.1 553.0 L445.4 554.0 L444.9 555.0 L444.6 556.0 L444.8 557.0 L445.5 558.0 L446.3 559.0 L447.5 560.0 L449.2 561.0 L451.1 562.0 L453.2 563.0 L455.3 564.0 L457.6 565.0 L459.9 566.0 L462.2 567.0 L464.2 568.0 L466.3 569.0 L468.2 570.0 L469.9 571.0 L471.2 572.0 L472.3 573.0 L473.2 574.0 L473.7 575.0 L474.2 576.0 L474.5 577.0 L474.4 578.0 L474.1 579.0 L473.4 580.0 L472.6 581.0 L470.9 582.0 L468.6 583.0 L466.2 584.0 L463.5 585.0 L460.7 586.0 L457.9 587.0 L455.0 588.0 L452.2 589.0 L449.5 590.0 L446.9 591.0 L444.4 592.0 L442.1 593.0 L439.7 594.0 L437.4 595.0 L435.5 596.0 L433.9 597.0 L432.4 598.0 L431.6 599.0 L431.2 600.0 L431.1 601.0 L431.5 602.0 L432.4 603.0 L433.6 604.0 L435.1 605.0 L437.4 606.0 L439.8 607.0 L442.4 608.0 L445.2 609.0 L448.0 610.0 L450.6 611.0 L453.2 612.0 L455.7 613.0 L458.0 614.0 L460.2 615.0 L462.3 616.0 L464.2 617.0 L465.9 618.0 L467.2 619.0 L468.4 620.0 L469.4 621.0 L470.1 622.0 L470.6 623.0 L471.0 624.0 L471.3 625.0 L471.5 626.0 L471.5 627.0 L471.3 628.0 L470.9 629.0 L470.4 630.0 L469.3 631.0 L468.0 632.0 L467.0 633.0 L466.1 634.0 L465.2 635.0 L464.4 636.0 L463.8 637.0 L463.1 638.0 L462.5 639.0 L462.1 640.0 L461.8 641.0 L461.6 642.0 L461.4 643.0 L461.3 644.0 L461.4 645.0 L461.6 646.0 L462.0 647.0 L462.4 648.0 L462.9 649.0 L463.8 650.0 L464.8 651.0 L465.9 652.0 L467.0 653.0 L468.2 654.0 L469.5 655.0 L470.8 656.0 L471.9 657.0 L473.0 658.0 L474.0 659.0 L475.0 660.0 L475.9 661.0 L476.7 662.0 L477.4 663.0 L478.1 664.0 L478.7 665.0 L479.3 666.0 L479.8 667.0 L480.3 668.0 L480.7 669.0 L481.1 670.0 L481.5 671.0 L481.8 672.0 L482.1 673.0 L482.4 674.0 L482.7 675.0 L482.9 676.0 L483.2 677.0 L483.4 678.0 L483.7 679.0 L483.9 680.0 L484.1 681.0 L484.4 682.0 L484.6 683.0 L484.8 684.0 L484.9 685.0 L485.1 686.0 L485.3 687.0 L485.4 688.0 L485.6 689.0 L485.7 690.0 L485.9 691.0 L486.0 692.0 L486.2 693.0 L486.3 694.0 L486.3 695.0 L486.8 696.0 L486.8 697.0 L486.8 698.0 L486.8 699.0 L486.8 700.0 L486.8 701.0 L486.8 702.0 L486.8 703.0 L486.8 704.0 L486.8 705.0 L486.8 706.0 L486.8 707.0 L486.8 708.0 L486.8 708.6 L486.8 708.6 L486.8 708.0 L486.8 707.0 L486.8 706.0 L486.8 705.0 L486.8 704.0 L486.8 703.0 L486.8 702.0 L486.8 701.0 L486.8 700.0 L486.8 699.0 L486.8 698.0 L486.8 697.0 L486.8 696.0 L487.3 695.0 L487.3 694.0 L487.4 693.0 L487.6 692.0 L487.7 691.0 L487.9 690.0 L488.0 689.0 L488.2 688.0 L488.3 687.0 L488.5 686.0 L488.7 685.0 L488.8 684.0 L489.0 683.0 L489.2 682.0 L489.5 681.0 L489.7 680.0 L489.9 679.0 L490.2 678.0 L490.4 677.0 L490.7 676.0 L490.9 675.0 L491.2 674.0 L491.5 673.0 L491.8 672.0 L492.1 671.0 L492.5 670.0 L492.9 669.0 L493.3 668.0 L493.8 667.0 L494.3 666.0 L494.9 665.0 L495.5 664.0 L496.2 663.0 L496.9 662.0 L497.7 661.0 L498.6 660.0 L499.6 659.0 L500.6 658.0 L501.7 657.0 L502.8 656.0 L504.1 655.0 L505.4 654.0 L506.6 653.0 L507.7 652.0 L508.8 651.0 L509.8 650.0 L510.7 649.0 L511.2 648.0 L511.6 647.0 L512.0 646.0 L512.2 645.0 L512.3 644.0 L512.2 643.0 L512.0 642.0 L511.8 641.0 L511.5 640.0 L511.1 639.0 L510.5 638.0 L509.8 637.0 L509.2 636.0 L508.4 635.0 L507.5 634.0 L506.6 633.0 L505.6 632.0 L504.3 631.0 L503.2 630.0 L502.7 629.0 L502.3 628.0 L502.1 627.0 L502.1 626.0 L502.3 625.0 L502.6 624.0 L503.0 623.0 L503.5 622.0 L504.2 621.0 L505.2 620.0 L506.4 619.0 L507.7 618.0 L509.4 617.0 L511.3 616.0 L513.4 615.0 L515.6 614.0 L517.9 613.0 L520.4 612.0 L523.0 611.0 L525.6 610.0 L528.4 609.0 L531.2 608.0 L533.8 607.0 L536.2 606.0 L538.5 605.0 L540.0 604.0 L541.2 603.0 L542.1 602.0 L542.5 601.0 L542.4 600.0 L542.0 599.0 L541.2 598.0 L539.7 597.0 L538.1 596.0 L536.2 595.0 L533.9 594.0 L531.5 593.0 L529.2 592.0 L526.7 591.0 L524.1 590.0 L521.4 589.0 L518.6 588.0 L515.7 587.0 L512.9 586.0 L510.1 585.0 L507.4 584.0 L505.0 583.0 L502.7 582.0 L501.0 581.0 L500.2 580.0 L499.5 579.0 L499.2 578.0 L499.1 577.0 L499.4 576.0 L499.9 575.0 L500.4 574.0 L501.3 573.0 L502.4 572.0 L503.7 571.0 L505.4 570.0 L507.3 569.0 L509.4 568.0 L511.4 567.0 L513.7 566.0 L516.0 565.0 L518.3 564.0 L520.4 563.0 L522.5 562.0 L524.4 561.0 L526.1 560.0 L527.3 559.0 L528.1 558.0 L528.8 557.0 L529.0 556.0 L528.7 555.0 L528.2 554.0 L527.5 553.0 L526.7 552.0 L525.6 551.0 L524.3 550.0 L522.8 549.0 L521.0 548.0 L519.0 547.0 L516.9 546.0 L514.6 545.0 L512.2 544.0 L509.9 543.0 L507.5 542.0 L505.2 541.0 L503.1 540.0 L501.3 539.0 L499.7 538.0 L498.2 537.0 L496.7 536.0 L495.4 535.0 L494.3 534.0 L493.3 533.0 L492.5 532.0 L492.2 531.0 L492.1 530.0 L492.1 529.0 L492.1 528.0 L492.2 527.0 L492.6 526.0 L493.0 525.0 L493.4 524.0 L493.9 523.0 L494.4 522.0 L494.9 521.0 L495.5 520.0 L495.9 519.0 L496.4 518.0 L496.9 517.0 L497.2 516.0 L497.5 515.0 L497.7 514.0 L497.9 513.0 L498.0 512.0 L498.0 511.0 L497.9 510.0 L497.8 509.0 L497.7 508.0 L497.5 507.0 L497.3 506.0 L497.0 505.0 L496.7 504.0 L496.3 503.0 L496.0 502.0 L495.5 501.0 L495.1 500.0 L494.6 499.0 L494.1 498.0 L493.6 497.0 L493.0 496.0 L492.4 495.0 L491.8 494.0 L491.2 493.0 L490.7 492.0 L490.1 491.0 L489.6 490.0 L489.1 489.0 L488.7 488.0 L488.4 487.0 L488.0 486.0 L487.7 485.0 L487.5 484.0 L487.3 483.0 L486.8 482.0 L486.8 481.0 L486.8 480.0 L486.8 479.0 L486.8 478.0 Z" fill="#f2d0ee" stroke="#5c4c5c" stroke-width="0.85" stroke-linejoin="round"/>
<line x1="486.8" y1="511.2" x2="486.8" y2="660.5" stroke="#ab93ab" stroke-width="1.6"/>
<rect x="480.3" y="556.1" width="12.6" height="44.4" fill="#e4a0dd" stroke="#6e566c" stroke-width="1"/>
<line x1="480.3" y1="600.5" x2="492.9" y2="600.5" stroke="#3a2a3a" stroke-width="1.5"/>
<circle cx="486.7" cy="600.7" r="1.9" fill="#ff0000"/>
<path d="M608.4 473.8 L608.4 474.8 L608.4 475.8 L608.4 476.8 L607.9 477.8 L607.8 478.8 L607.5 479.8 L607.2 480.8 L606.9 481.8 L606.5 482.8 L606.0 483.8 L605.5 484.8 L604.9 485.8 L604.2 486.8 L603.5 487.8 L602.7 488.8 L601.9 489.8 L601.0 490.8 L600.1 491.8 L599.2 492.8 L598.2 493.8 L597.3 494.8 L596.4 495.8 L595.4 496.8 L594.5 497.8 L593.6 498.8 L592.9 499.8 L592.2 500.8 L591.5 501.8 L590.9 502.8 L590.4 503.8 L590.0 504.8 L589.6 505.8 L589.2 506.8 L588.9 507.8 L588.8 508.8 L588.8 509.8 L588.8 510.8 L588.8 511.8 L588.8 512.8 L589.0 513.8 L589.4 514.8 L589.9 515.8 L590.4 516.8 L591.1 517.8 L591.8 518.8 L592.7 519.8 L593.5 520.8 L594.2 521.8 L594.9 522.8 L595.6 523.8 L596.2 524.8 L596.6 525.8 L597.1 526.8 L597.5 527.8 L597.7 528.8 L597.7 529.8 L597.5 530.8 L597.1 531.8 L596.7 532.8 L595.8 533.8 L594.7 534.8 L593.4 535.8 L591.9 536.8 L590.1 537.8 L588.2 538.8 L586.2 539.8 L584.1 540.8 L582.1 541.8 L580.3 542.8 L578.4 543.8 L576.7 544.8 L574.9 545.8 L573.2 546.8 L571.9 547.8 L570.8 548.8 L569.9 549.8 L568.8 550.8 L566.9 551.8 L565.7 552.8 L564.9 553.8 L564.4 554.8 L564.4 555.8 L564.6 556.8 L564.8 557.8 L565.2 558.8 L566.1 559.8 L567.3 560.8 L568.6 561.8 L570.3 562.8 L572.3 563.8 L574.4 564.8 L576.4 565.8 L578.4 566.8 L580.4 567.8 L582.3 568.8 L583.9 569.8 L585.5 570.8 L586.9 571.8 L588.2 572.8 L589.2 573.8 L590.0 574.8 L590.7 575.8 L591.2 576.8 L591.5 577.8 L591.7 578.8 L591.6 579.8 L591.0 580.8 L590.3 581.8 L589.3 582.8 L587.9 583.8 L586.3 584.8 L584.6 585.8 L582.7 586.8 L580.7 587.8 L578.7 588.8 L576.7 589.8 L574.8 590.8 L573.0 591.8 L571.3 592.8 L569.8 593.8 L568.5 594.8 L567.3 595.8 L566.5 596.8 L566.0 597.8 L565.6 598.8 L565.4 599.8 L565.5 600.8 L565.8 601.8 L566.4 602.8 L567.0 603.8 L568.1 604.8 L569.5 605.8 L570.8 606.8 L572.4 607.8 L574.1 608.8 L575.8 609.8 L577.4 610.8 L579.1 611.8 L580.8 612.8 L582.4 613.8 L583.9 614.8 L585.4 615.8 L586.8 616.8 L588.1 617.8 L589.2 618.8 L590.3 619.8 L591.2 620.8 L592.0 621.8 L592.6 622.8 L593.0 623.8 L593.4 624.8 L593.7 625.8 L594.1 626.8 L594.4 627.8 L594.6 628.8 L594.8 629.8 L594.9 630.8 L595.0 631.8 L595.0 632.8 L595.1 633.8 L595.1 634.8 L595.2 635.8 L595.2 636.8 L595.4 637.8 L595.5 638.8 L595.7 639.8 L595.9 640.8 L596.2 641.8 L596.5 642.8 L596.9 643.8 L597.2 644.8 L597.7 645.8 L598.1 646.8 L598.5 647.8 L598.9 648.8 L599.3 649.8 L599.7 650.8 L600.1 651.8 L600.5 652.8 L600.9 653.8 L601.4 654.8 L601.8 655.8 L602.2 656.8 L602.6 657.8 L603.0 658.8 L603.4 659.8 L603.7 660.8 L604.0 661.8 L604.4 662.8 L604.7 663.8 L605.0 664.8 L605.3 665.8 L605.6 666.8 L605.9 667.8 L606.2 668.8 L606.5 669.8 L606.7 670.8 L606.9 671.8 L607.1 672.8 L607.3 673.8 L607.5 674.8 L607.6 675.8 L607.8 676.8 L607.9 677.8 L608.0 678.8 L608.4 679.8 L608.4 680.8 L608.4 681.8 L608.4 682.8 L608.4 683.8 L608.4 684.8 L608.4 685.8 L608.4 686.8 L608.4 687.8 L608.4 688.8 L608.4 689.8 L608.4 690.8 L608.4 691.8 L608.4 692.8 L608.4 693.8 L608.4 694.8 L608.4 695.8 L608.4 696.8 L608.4 697.6 L608.4 697.6 L608.4 696.8 L608.4 695.8 L608.4 694.8 L608.4 693.8 L608.4 692.8 L608.4 691.8 L608.4 690.8 L608.4 689.8 L608.4 688.8 L608.4 687.8 L608.4 686.8 L608.4 685.8 L608.4 684.8 L608.4 683.8 L608.4 682.8 L608.4 681.8 L608.4 680.8 L608.4 679.8 L608.8 678.8 L608.9 677.8 L609.0 676.8 L609.2 675.8 L609.3 674.8 L609.5 673.8 L609.7 672.8 L609.9 671.8 L610.1 670.8 L610.3 669.8 L610.6 668.8 L610.9 667.8 L611.2 666.8 L611.5 665.8 L611.8 664.8 L612.1 663.8 L612.4 662.8 L612.8 661.8 L613.1 660.8 L613.4 659.8 L613.8 658.8 L614.2 657.8 L614.6 656.8 L615.0 655.8 L615.4 654.8 L615.9 653.8 L616.3 652.8 L616.7 651.8 L617.1 650.8 L617.5 649.8 L617.9 648.8 L618.3 647.8 L618.7 646.8 L619.1 645.8 L619.6 644.8 L619.9 643.8 L620.3 642.8 L620.6 641.8 L620.9 640.8 L621.1 639.8 L621.3 638.8 L621.4 637.8 L621.6 636.8 L621.6 635.8 L621.7 634.8 L621.7 633.8 L621.8 632.8 L621.8 631.8 L621.9 630.8 L622.0 629.8 L622.2 628.8 L622.4 627.8 L622.7 626.8 L623.1 625.8 L623.4 624.8 L623.8 623.8 L624.2 622.8 L624.8 621.8 L625.6 620.8 L626.5 619.8 L627.6 618.8 L628.7 617.8 L630.0 616.8 L631.4 615.8 L632.9 614.8 L634.4 613.8 L636.0 612.8 L637.7 611.8 L639.4 610.8 L641.0 609.8 L642.7 608.8 L644.4 607.8 L646.0 606.8 L647.3 605.8 L648.7 604.8 L649.8 603.8 L650.4 602.8 L651.0 601.8 L651.3 600.8 L651.4 599.8 L651.2 598.8 L650.8 597.8 L650.3 596.8 L649.5 595.8 L648.3 594.8 L647.0 593.8 L645.5 592.8 L643.8 591.8 L642.0 590.8 L640.1 589.8 L638.1 588.8 L636.1 587.8 L634.1 586.8 L632.2 585.8 L630.5 584.8 L628.9 583.8 L627.5 582.8 L626.5 581.8 L625.8 580.8 L625.2 579.8 L625.1 578.8 L625.3 577.8 L625.6 576.8 L626.1 575.8 L626.8 574.8 L627.6 573.8 L628.6 572.8 L629.9 571.8 L631.3 570.8 L632.9 569.8 L634.5 568.8 L636.4 567.8 L638.4 566.8 L640.4 565.8 L642.4 564.8 L644.5 563.8 L646.5 562.8 L648.2 561.8 L649.5 560.8 L650.7 559.8 L651.6 558.8 L652.0 557.8 L652.2 556.8 L652.4 555.8 L652.4 554.8 L651.9 553.8 L651.1 552.8 L649.9 551.8 L648.0 550.8 L646.9 549.8 L646.0 548.8 L644.9 547.8 L643.6 546.8 L641.9 545.8 L640.1 544.8 L638.4 543.8 L636.5 542.8 L634.7 541.8 L632.7 540.8 L630.6 539.8 L628.6 538.8 L626.7 537.8 L624.9 536.8 L623.4 535.8 L622.1 534.8 L621.0 533.8 L620.1 532.8 L619.7 531.8 L619.3 530.8 L619.1 529.8 L619.1 528.8 L619.3 527.8 L619.7 526.8 L620.2 525.8 L620.6 524.8 L621.2 523.8 L621.9 522.8 L622.6 521.8 L623.3 520.8 L624.1 519.8 L625.0 518.8 L625.7 517.8 L626.4 516.8 L626.9 515.8 L627.4 514.8 L627.8 513.8 L628.0 512.8 L628.0 511.8 L628.0 510.8 L628.0 509.8 L628.0 508.8 L627.9 507.8 L627.6 506.8 L627.2 505.8 L626.8 504.8 L626.4 503.8 L625.9 502.8 L625.3 501.8 L624.6 500.8 L623.9 499.8 L623.2 498.8 L622.3 497.8 L621.4 496.8 L620.4 495.8 L619.5 494.8 L618.6 493.8 L617.6 492.8 L616.7 491.8 L615.8 490.8 L614.9 489.8 L614.1 488.8 L613.3 487.8 L612.6 486.8 L611.9 485.8 L611.3 484.8 L610.8 483.8 L610.3 482.8 L609.9 481.8 L609.6 480.8 L609.3 479.8 L609.0 478.8 L608.9 477.8 L608.4 476.8 L608.4 475.8 L608.4 474.8 L608.4 473.8 Z" fill="#f2d0ee" stroke="#5c4c5c" stroke-width="0.85" stroke-linejoin="round"/>
<line x1="608.4" y1="511.3" x2="608.4" y2="660.3" stroke="#5a4a5a" stroke-width="1.0"/>
<rect x="602.2" y="555.3" width="12.5" height="45.3" fill="#e4a0dd" stroke="#6e566c" stroke-width="1"/>
<line x1="602.2" y1="555.5" x2="614.7" y2="555.5" stroke="#3a2a3a" stroke-width="1.5"/>
<circle cx="608.5" cy="556.2" r="1.9" fill="#ff0000"/>
<text x="410.0" y="469.7" class="tick" text-anchor="end">15</text>
<text x="410.0" y="544.7" class="tick" text-anchor="end">10</text>
<text x="408.7" y="619.5" class="tick" text-anchor="end">5</text>
<text x="408.7" y="694.2" class="tick" text-anchor="end">0</text>
<text x="486.2" y="732.0" class="xt" text-anchor="middle">Low</text>
<text x="608.5" y="732.5" class="xt" text-anchor="middle">High</text>
<text x="397.3" y="450.6" class="unit">IRS</text>
<text x="549.5" y="757.0" class="title" text-anchor="middle">INHBB</text>
<text transform="translate(382.0 587.0) rotate(-90)" class="title" text-anchor="middle">CD163</text>
<line x1="516.2" y1="498.5" x2="576.5" y2="498.5" stroke="#1a1a1a" stroke-width="1.4"/>
<text x="529.6 538.5 549.5 560.0" y="490.8" class="star" text-anchor="middle">****</text>
</g>
<g>
<text x="538.5" y="13.4" class="lstar" text-anchor="middle">*</text>
<text x="576.2" y="11.1" class="ltext">p=0.005</text>
<text x="543.4" y="41.2" class="lstar" text-anchor="middle">* *</text>
<text x="578.3" y="38.7" class="ltext">p&lt;0.001</text>
<text x="548.6" y="67.6" class="lstar" text-anchor="middle">* * *</text>
<text x="578.2" y="66.3" class="ltext">p=0.028</text>
<text x="553.6" y="94.2" class="lstar" text-anchor="middle">* * * *</text>
<text x="578.2" y="93.4" class="ltext">p=0.008</text>
</g>
</svg>
</body>
</html>
